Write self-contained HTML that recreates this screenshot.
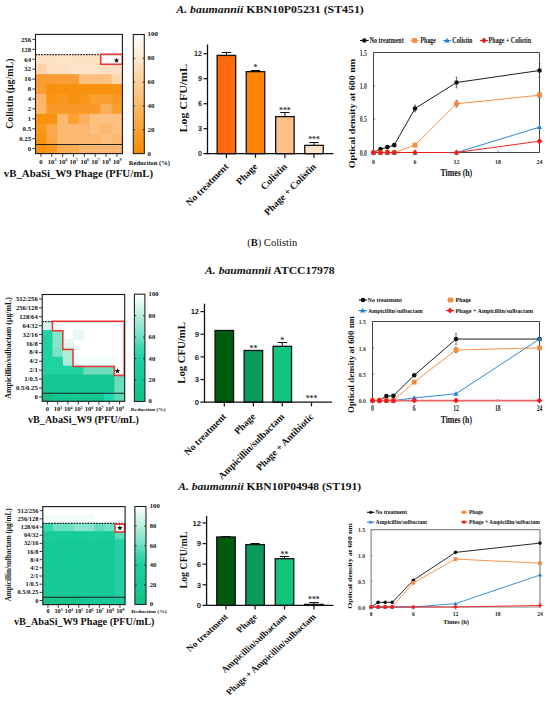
<!DOCTYPE html>
<html><head><meta charset="utf-8"><title>Figure</title>
<style>
html,body{margin:0;padding:0;background:#fff;}
body{width:550px;height:702px;overflow:hidden;}
svg{display:block;font-family:"Liberation Serif", serif;}
</style></head>
<body>
<svg width="550" height="702" viewBox="0 0 550 702" fill="#111">
<text x='176.3' y='12.8' font-size='10.6' font-weight='bold' textLength='187.5' lengthAdjust='spacingAndGlyphs'><tspan font-style='italic'>A. baumannii</tspan> KBN10P05231 (ST451)</text>
<rect x='35.5' y='54.27' width='11.46' height='10.53' fill='#fde2c6'/>
<rect x='46.36' y='54.27' width='11.46' height='10.53' fill='#fde2c6'/>
<rect x='57.23' y='54.27' width='11.46' height='10.53' fill='#fde2c6'/>
<rect x='68.09' y='54.27' width='11.46' height='10.53' fill='#fde2c6'/>
<rect x='78.95' y='54.27' width='11.46' height='10.53' fill='#fde2c6'/>
<rect x='89.81' y='54.27' width='11.46' height='10.53' fill='#fde2c6'/>
<rect x='35.5' y='64.2' width='11.46' height='10.53' fill='#fcd4ac'/>
<rect x='46.36' y='64.2' width='11.46' height='10.53' fill='#fde0c2'/>
<rect x='57.23' y='64.2' width='11.46' height='10.53' fill='#fde0c2'/>
<rect x='68.09' y='64.2' width='11.46' height='10.53' fill='#fde3c8'/>
<rect x='78.95' y='64.2' width='11.46' height='10.53' fill='#fde3c8'/>
<rect x='89.81' y='64.2' width='11.46' height='10.53' fill='#fde3c8'/>
<rect x='100.68' y='64.2' width='11.46' height='10.53' fill='#fde0c2'/>
<rect x='111.54' y='64.2' width='10.86' height='10.53' fill='#fde0c2'/>
<rect x='35.5' y='74.13' width='11.46' height='10.53' fill='#f99c34'/>
<rect x='46.36' y='74.13' width='11.46' height='10.53' fill='#f99c34'/>
<rect x='57.23' y='74.13' width='11.46' height='10.53' fill='#f99c34'/>
<rect x='68.09' y='74.13' width='11.46' height='10.53' fill='#f99c34'/>
<rect x='78.95' y='74.13' width='11.46' height='10.53' fill='#fbbf80'/>
<rect x='89.81' y='74.13' width='11.46' height='10.53' fill='#fbbf80'/>
<rect x='100.68' y='74.13' width='11.46' height='10.53' fill='#fbbf80'/>
<rect x='111.54' y='74.13' width='10.86' height='10.53' fill='#fdd6ae'/>
<rect x='35.5' y='84.07' width='11.46' height='10.53' fill='#f99c34'/>
<rect x='46.36' y='84.07' width='11.46' height='10.53' fill='#f8920e'/>
<rect x='57.23' y='84.07' width='11.46' height='10.53' fill='#f8920e'/>
<rect x='68.09' y='84.07' width='11.46' height='10.53' fill='#f8920e'/>
<rect x='78.95' y='84.07' width='11.46' height='10.53' fill='#f8920e'/>
<rect x='89.81' y='84.07' width='11.46' height='10.53' fill='#f8920e'/>
<rect x='100.68' y='84.07' width='11.46' height='10.53' fill='#f8920e'/>
<rect x='111.54' y='84.07' width='10.86' height='10.53' fill='#f8920e'/>
<rect x='35.5' y='94' width='11.46' height='10.53' fill='#fcb56a'/>
<rect x='46.36' y='94' width='11.46' height='10.53' fill='#f99414'/>
<rect x='57.23' y='94' width='11.46' height='10.53' fill='#f99820'/>
<rect x='68.09' y='94' width='11.46' height='10.53' fill='#f8920e'/>
<rect x='78.95' y='94' width='11.46' height='10.53' fill='#f99618'/>
<rect x='89.81' y='94' width='11.46' height='10.53' fill='#f9a030'/>
<rect x='100.68' y='94' width='11.46' height='10.53' fill='#f9a030'/>
<rect x='111.54' y='94' width='10.86' height='10.53' fill='#f99a28'/>
<rect x='35.5' y='103.93' width='11.46' height='10.53' fill='#fcb56a'/>
<rect x='46.36' y='103.93' width='11.46' height='10.53' fill='#f99a28'/>
<rect x='57.23' y='103.93' width='11.46' height='10.53' fill='#f99a28'/>
<rect x='68.09' y='103.93' width='11.46' height='10.53' fill='#f99a28'/>
<rect x='78.95' y='103.93' width='11.46' height='10.53' fill='#f99a28'/>
<rect x='89.81' y='103.93' width='11.46' height='10.53' fill='#f99a28'/>
<rect x='100.68' y='103.93' width='11.46' height='10.53' fill='#fbb060'/>
<rect x='111.54' y='103.93' width='10.86' height='10.53' fill='#f9a030'/>
<rect x='35.5' y='113.87' width='11.46' height='10.53' fill='#f8920e'/>
<rect x='46.36' y='113.87' width='11.46' height='10.53' fill='#f8920e'/>
<rect x='57.23' y='113.87' width='11.46' height='10.53' fill='#fcb86c'/>
<rect x='68.09' y='113.87' width='11.46' height='10.53' fill='#f9a030'/>
<rect x='78.95' y='113.87' width='11.46' height='10.53' fill='#fbb060'/>
<rect x='89.81' y='113.87' width='11.46' height='10.53' fill='#fcc080'/>
<rect x='100.68' y='113.87' width='11.46' height='10.53' fill='#fcc080'/>
<rect x='111.54' y='113.87' width='10.86' height='10.53' fill='#fcc080'/>
<rect x='35.5' y='123.8' width='11.46' height='10.53' fill='#f9981c'/>
<rect x='46.36' y='123.8' width='11.46' height='10.53' fill='#faa848'/>
<rect x='57.23' y='123.8' width='11.46' height='10.53' fill='#fcb870'/>
<rect x='68.09' y='123.8' width='11.46' height='10.53' fill='#fcb870'/>
<rect x='78.95' y='123.8' width='11.46' height='10.53' fill='#fcb870'/>
<rect x='89.81' y='123.8' width='11.46' height='10.53' fill='#fcc080'/>
<rect x='100.68' y='123.8' width='11.46' height='10.53' fill='#fcb870'/>
<rect x='111.54' y='123.8' width='10.86' height='10.53' fill='#fcc080'/>
<rect x='35.5' y='133.73' width='11.46' height='10.53' fill='#f8920e'/>
<rect x='46.36' y='133.73' width='11.46' height='10.53' fill='#faa848'/>
<rect x='57.23' y='133.73' width='11.46' height='10.53' fill='#fcb870'/>
<rect x='68.09' y='133.73' width='11.46' height='10.53' fill='#fcb870'/>
<rect x='78.95' y='133.73' width='11.46' height='10.53' fill='#fcb870'/>
<rect x='89.81' y='133.73' width='11.46' height='10.53' fill='#fcb870'/>
<rect x='100.68' y='133.73' width='11.46' height='10.53' fill='#fcc080'/>
<rect x='111.54' y='133.73' width='10.86' height='10.53' fill='#fcb870'/>
<rect x='35.5' y='143.67' width='11.46' height='9.93' fill='#f8900a'/>
<rect x='46.36' y='143.67' width='11.46' height='9.93' fill='#f9981c'/>
<rect x='57.23' y='143.67' width='11.46' height='9.93' fill='#fbac50'/>
<rect x='68.09' y='143.67' width='11.46' height='9.93' fill='#fbac50'/>
<rect x='78.95' y='143.67' width='11.46' height='9.93' fill='#fcb870'/>
<rect x='89.81' y='143.67' width='11.46' height='9.93' fill='#fcb870'/>
<rect x='100.68' y='143.67' width='11.46' height='9.93' fill='#fcb870'/>
<rect x='111.54' y='143.67' width='10.86' height='9.93' fill='#fcb870'/>
<line x1='35.5' y1='54.67' x2='122.4' y2='54.67' stroke='#222' stroke-width='1.35' stroke-dasharray='1.7 1.1'/>
<line x1='35.5' y1='144.47' x2='122.4' y2='144.47' stroke='#222' stroke-width='1.1'/>
<polygon points='100.68,54.27 122.4,54.27 122.4,64.2 100.68,64.2' fill='none' stroke='#f03232' stroke-width='1.5'/>
<rect x='35.5' y='34.4' width='86.9' height='119.2' fill='none' stroke='#1a1a1a' stroke-width='1.1'/>
<line x1='32.3' y1='39.37' x2='35.5' y2='39.37' stroke='#222' stroke-width='0.9'/>
<text x='31.1' y='41.68' font-size='6.8' font-weight='bold' text-anchor='end' textLength='10.2' lengthAdjust='spacingAndGlyphs'>256</text>
<line x1='32.3' y1='49.3' x2='35.5' y2='49.3' stroke='#222' stroke-width='0.9'/>
<text x='31.1' y='51.61' font-size='6.8' font-weight='bold' text-anchor='end' textLength='10.2' lengthAdjust='spacingAndGlyphs'>128</text>
<line x1='32.3' y1='59.23' x2='35.5' y2='59.23' stroke='#222' stroke-width='0.9'/>
<text x='31.1' y='61.55' font-size='6.8' font-weight='bold' text-anchor='end' textLength='6.8' lengthAdjust='spacingAndGlyphs'>64</text>
<line x1='32.3' y1='69.17' x2='35.5' y2='69.17' stroke='#222' stroke-width='0.9'/>
<text x='31.1' y='71.48' font-size='6.8' font-weight='bold' text-anchor='end' textLength='6.8' lengthAdjust='spacingAndGlyphs'>32</text>
<line x1='32.3' y1='79.1' x2='35.5' y2='79.1' stroke='#222' stroke-width='0.9'/>
<text x='31.1' y='81.41' font-size='6.8' font-weight='bold' text-anchor='end' textLength='6.8' lengthAdjust='spacingAndGlyphs'>16</text>
<line x1='32.3' y1='89.03' x2='35.5' y2='89.03' stroke='#222' stroke-width='0.9'/>
<text x='31.1' y='91.35' font-size='6.8' font-weight='bold' text-anchor='end' textLength='3.4' lengthAdjust='spacingAndGlyphs'>8</text>
<line x1='32.3' y1='98.97' x2='35.5' y2='98.97' stroke='#222' stroke-width='0.9'/>
<text x='31.1' y='101.28' font-size='6.8' font-weight='bold' text-anchor='end' textLength='3.4' lengthAdjust='spacingAndGlyphs'>4</text>
<line x1='32.3' y1='108.9' x2='35.5' y2='108.9' stroke='#222' stroke-width='0.9'/>
<text x='31.1' y='111.21' font-size='6.8' font-weight='bold' text-anchor='end' textLength='3.4' lengthAdjust='spacingAndGlyphs'>2</text>
<line x1='32.3' y1='118.83' x2='35.5' y2='118.83' stroke='#222' stroke-width='0.9'/>
<text x='31.1' y='121.15' font-size='6.8' font-weight='bold' text-anchor='end' textLength='3.4' lengthAdjust='spacingAndGlyphs'>1</text>
<line x1='32.3' y1='128.77' x2='35.5' y2='128.77' stroke='#222' stroke-width='0.9'/>
<text x='31.1' y='131.08' font-size='6.8' font-weight='bold' text-anchor='end' textLength='8.5' lengthAdjust='spacingAndGlyphs'>0.5</text>
<line x1='32.3' y1='138.7' x2='35.5' y2='138.7' stroke='#222' stroke-width='0.9'/>
<text x='31.1' y='141.01' font-size='6.8' font-weight='bold' text-anchor='end' textLength='11.9' lengthAdjust='spacingAndGlyphs'>0.25</text>
<line x1='32.3' y1='148.63' x2='35.5' y2='148.63' stroke='#222' stroke-width='0.9'/>
<text x='31.1' y='150.95' font-size='6.8' font-weight='bold' text-anchor='end' textLength='3.4' lengthAdjust='spacingAndGlyphs'>0</text>
<line x1='40.93' y1='153.6' x2='40.93' y2='156.8' stroke='#222' stroke-width='0.9'/>
<text x='40.93' y='163.5' font-size='6.6' font-weight='bold' text-anchor='middle'>0</text>
<line x1='51.79' y1='153.6' x2='51.79' y2='156.8' stroke='#222' stroke-width='0.9'/>
<text x='52.09' y='163.5' font-size='6.6' font-weight='bold' text-anchor='middle'>10<tspan dy='-2.51' font-size='3.96'>3</tspan></text>
<line x1='62.66' y1='153.6' x2='62.66' y2='156.8' stroke='#222' stroke-width='0.9'/>
<text x='62.96' y='163.5' font-size='6.6' font-weight='bold' text-anchor='middle'>10<tspan dy='-2.51' font-size='3.96'>4</tspan></text>
<line x1='73.52' y1='153.6' x2='73.52' y2='156.8' stroke='#222' stroke-width='0.9'/>
<text x='73.82' y='163.5' font-size='6.6' font-weight='bold' text-anchor='middle'>10<tspan dy='-2.51' font-size='3.96'>5</tspan></text>
<line x1='84.38' y1='153.6' x2='84.38' y2='156.8' stroke='#222' stroke-width='0.9'/>
<text x='84.68' y='163.5' font-size='6.6' font-weight='bold' text-anchor='middle'>10<tspan dy='-2.51' font-size='3.96'>6</tspan></text>
<line x1='95.24' y1='153.6' x2='95.24' y2='156.8' stroke='#222' stroke-width='0.9'/>
<text x='95.54' y='163.5' font-size='6.6' font-weight='bold' text-anchor='middle'>10<tspan dy='-2.51' font-size='3.96'>7</tspan></text>
<line x1='106.11' y1='153.6' x2='106.11' y2='156.8' stroke='#222' stroke-width='0.9'/>
<text x='106.41' y='163.5' font-size='6.6' font-weight='bold' text-anchor='middle'>10<tspan dy='-2.51' font-size='3.96'>8</tspan></text>
<line x1='116.97' y1='153.6' x2='116.97' y2='156.8' stroke='#222' stroke-width='0.9'/>
<text x='117.27' y='163.5' font-size='6.6' font-weight='bold' text-anchor='middle'>10<tspan dy='-2.51' font-size='3.96'>9</tspan></text>
<polygon points='116.5,57.5 117.23,59.39 119.26,59.5 117.69,60.79 118.2,62.75 116.5,61.65 114.8,62.75 115.31,60.79 113.74,59.5 115.77,59.39' fill='#111'/>
<text transform='translate(13 93.7) rotate(-90) scale(0.9361 1)' font-size='10.6' font-weight='bold' text-anchor='middle'>Colistin (μg/mL)</text>
<text x='78.4' y='177.2' font-size='10.6' font-weight='bold' text-anchor='middle' textLength='149.3' lengthAdjust='spacingAndGlyphs'>vB_AbaSi_W9 Phage (PFU/mL)</text>
<defs><linearGradient id='g1' x1='0' y1='0' x2='0' y2='1'><stop offset='0' stop-color='#ffffff'/><stop offset='1' stop-color='#f88a00'/></linearGradient></defs>
<rect x='133.3' y='34.5' width='11' height='119.1' fill='url(#g1)' stroke='#222' stroke-width='1.1'/>
<text x='147.6' y='36.46' font-size='5.6' font-weight='bold' textLength='10.35' lengthAdjust='spacingAndGlyphs'>100</text>
<line x1='133.3' y1='58.32' x2='135.1' y2='58.32' stroke='#222' stroke-width='0.9'/>
<line x1='142.5' y1='58.32' x2='144.3' y2='58.32' stroke='#222' stroke-width='0.9'/>
<text x='147.6' y='60.28' font-size='5.6' font-weight='bold' textLength='6.9' lengthAdjust='spacingAndGlyphs'>80</text>
<line x1='133.3' y1='82.14' x2='135.1' y2='82.14' stroke='#222' stroke-width='0.9'/>
<line x1='142.5' y1='82.14' x2='144.3' y2='82.14' stroke='#222' stroke-width='0.9'/>
<text x='147.6' y='84.1' font-size='5.6' font-weight='bold' textLength='6.9' lengthAdjust='spacingAndGlyphs'>60</text>
<line x1='133.3' y1='105.96' x2='135.1' y2='105.96' stroke='#222' stroke-width='0.9'/>
<line x1='142.5' y1='105.96' x2='144.3' y2='105.96' stroke='#222' stroke-width='0.9'/>
<text x='147.6' y='107.92' font-size='5.6' font-weight='bold' textLength='6.9' lengthAdjust='spacingAndGlyphs'>40</text>
<line x1='133.3' y1='129.78' x2='135.1' y2='129.78' stroke='#222' stroke-width='0.9'/>
<line x1='142.5' y1='129.78' x2='144.3' y2='129.78' stroke='#222' stroke-width='0.9'/>
<text x='147.6' y='131.74' font-size='5.6' font-weight='bold' textLength='6.9' lengthAdjust='spacingAndGlyphs'>20</text>
<text x='147.6' y='155.56' font-size='5.6' font-weight='bold' textLength='3.45' lengthAdjust='spacingAndGlyphs'>0</text>
<text x='149.4' y='164.5' font-size='6' font-weight='bold' text-anchor='middle' textLength='41.2' lengthAdjust='spacingAndGlyphs'>Reduction (%)</text>
<rect x='217.15' y='55.41' width='18.5' height='98.29' fill='#fe6a0a' stroke='#111' stroke-width='1.3'/>
<line x1='226.4' y1='55.41' x2='226.4' y2='52.5' stroke='#111' stroke-width='1'/>
<line x1='221.7' y1='52.5' x2='231.1' y2='52.5' stroke='#111' stroke-width='1'/>
<rect x='246.25' y='71.65' width='18.5' height='82.05' fill='#ff8404' stroke='#111' stroke-width='1.3'/>
<line x1='255.5' y1='71.65' x2='255.5' y2='70.5' stroke='#111' stroke-width='1'/>
<line x1='250.8' y1='70.5' x2='260.2' y2='70.5' stroke='#111' stroke-width='1'/>
<text x='255.5' y='69.9' font-size='7.6' font-weight='bold' text-anchor='middle' fill='#333' textLength='3.9' lengthAdjust='spacingAndGlyphs'>*</text>
<rect x='275.65' y='116.63' width='18.5' height='37.07' fill='#fdc08a' stroke='#111' stroke-width='1.3'/>
<line x1='284.9' y1='116.63' x2='284.9' y2='112.5' stroke='#111' stroke-width='1'/>
<line x1='280.2' y1='112.5' x2='289.6' y2='112.5' stroke='#111' stroke-width='1'/>
<text x='284.9' y='112.9' font-size='7.6' font-weight='bold' text-anchor='middle' fill='#333' textLength='11.7' lengthAdjust='spacingAndGlyphs'>***</text>
<rect x='304.75' y='145.37' width='18.5' height='8.33' fill='#fde4c8' stroke='#111' stroke-width='1.3'/>
<line x1='314' y1='145.37' x2='314' y2='142.5' stroke='#111' stroke-width='1'/>
<line x1='309.3' y1='142.5' x2='318.7' y2='142.5' stroke='#111' stroke-width='1'/>
<text x='314' y='142.4' font-size='7.6' font-weight='bold' text-anchor='middle' fill='#333' textLength='11.7' lengthAdjust='spacingAndGlyphs'>***</text>
<line x1='207.5' y1='44.5' x2='207.5' y2='154.3' stroke='#111' stroke-width='1.3'/>
<line x1='203.5' y1='153.7' x2='333.5' y2='153.7' stroke='#111' stroke-width='1.3'/>
<line x1='203.5' y1='128.71' x2='207.5' y2='128.71' stroke='#111' stroke-width='1.2'/>
<line x1='203.5' y1='103.72' x2='207.5' y2='103.72' stroke='#111' stroke-width='1.2'/>
<line x1='203.5' y1='78.73' x2='207.5' y2='78.73' stroke='#111' stroke-width='1.2'/>
<line x1='203.5' y1='53.74' x2='207.5' y2='53.74' stroke='#111' stroke-width='1.2'/>
<text x='202.1' y='156.29' font-size='7.2' font-weight='bold' font-family='Liberation Sans' text-anchor='end' fill='#222'>0</text>
<text x='202.1' y='131.3' font-size='7.2' font-weight='bold' font-family='Liberation Sans' text-anchor='end' fill='#222'>3</text>
<text x='202.1' y='106.31' font-size='7.2' font-weight='bold' font-family='Liberation Sans' text-anchor='end' fill='#222'>6</text>
<text x='202.1' y='81.32' font-size='7.2' font-weight='bold' font-family='Liberation Sans' text-anchor='end' fill='#222'>9</text>
<text x='202.1' y='56.33' font-size='7.2' font-weight='bold' font-family='Liberation Sans' text-anchor='end' fill='#222'>12</text>
<line x1='226.4' y1='153.7' x2='226.4' y2='157.9' stroke='#111' stroke-width='1.2'/>
<line x1='255.5' y1='153.7' x2='255.5' y2='157.9' stroke='#111' stroke-width='1.2'/>
<line x1='284.9' y1='153.7' x2='284.9' y2='157.9' stroke='#111' stroke-width='1.2'/>
<line x1='314' y1='153.7' x2='314' y2='157.9' stroke='#111' stroke-width='1.2'/>
<text transform='translate(187 98.3) rotate(-90) scale(1.1313 1)' font-size='10.5' font-weight='bold' text-anchor='middle'>Log CFU/mL</text>
<text transform='translate(229 167.3) scale(1 1) rotate(-45)' font-size='9.8' font-weight='bold' text-anchor='end'>No treatment</text>
<text transform='translate(258.1 167.3) scale(1 1) rotate(-45)' font-size='9.8' font-weight='bold' text-anchor='end'>Phage</text>
<text transform='translate(287.5 167.3) scale(1 1) rotate(-45)' font-size='9.8' font-weight='bold' text-anchor='end'>Colistin</text>
<text transform='translate(316.6 167.3) scale(1 1) rotate(-45)' font-size='9.8' font-weight='bold' text-anchor='end'>Phage + Colistin</text>
<path d='M373.5,152.5 L373.5,52.5 L539.5,52.5 L539.5,152.5 Z' fill='none' stroke='#444' stroke-width='1'/>
<line x1='373.5' y1='152.5' x2='375.1' y2='152.5' stroke='#444' stroke-width='0.8'/>
<text x='366.9' y='155.52' font-size='7.2' font-weight='bold' text-anchor='end' fill='#333' textLength='7.2' lengthAdjust='spacingAndGlyphs'>0.0</text>
<line x1='373.5' y1='119.17' x2='375.1' y2='119.17' stroke='#444' stroke-width='0.8'/>
<text x='366.9' y='122.19' font-size='7.2' font-weight='bold' text-anchor='end' fill='#333' textLength='7.2' lengthAdjust='spacingAndGlyphs'>0.5</text>
<line x1='373.5' y1='85.83' x2='375.1' y2='85.83' stroke='#444' stroke-width='0.8'/>
<text x='366.9' y='88.86' font-size='7.2' font-weight='bold' text-anchor='end' fill='#333' textLength='7.2' lengthAdjust='spacingAndGlyphs'>1.0</text>
<line x1='373.5' y1='52.5' x2='375.1' y2='52.5' stroke='#444' stroke-width='0.8'/>
<text x='366.9' y='55.52' font-size='7.2' font-weight='bold' text-anchor='end' fill='#333' textLength='7.2' lengthAdjust='spacingAndGlyphs'>1.5</text>
<line x1='373.5' y1='152.5' x2='373.5' y2='151' stroke='#444' stroke-width='0.8'/>
<text x='373.5' y='163.8' font-size='7' font-weight='bold' text-anchor='middle' fill='#222' textLength='2.95' lengthAdjust='spacingAndGlyphs'>0</text>
<line x1='415' y1='152.5' x2='415' y2='151' stroke='#444' stroke-width='0.8'/>
<text x='415' y='163.8' font-size='7' font-weight='bold' text-anchor='middle' fill='#222' textLength='2.95' lengthAdjust='spacingAndGlyphs'>6</text>
<line x1='456.5' y1='152.5' x2='456.5' y2='151' stroke='#444' stroke-width='0.8'/>
<text x='456.5' y='163.8' font-size='7' font-weight='bold' text-anchor='middle' fill='#222' textLength='5.9' lengthAdjust='spacingAndGlyphs'>12</text>
<line x1='498' y1='152.5' x2='498' y2='151' stroke='#444' stroke-width='0.8'/>
<text x='498' y='163.8' font-size='7' font-weight='bold' text-anchor='middle' fill='#222' textLength='5.9' lengthAdjust='spacingAndGlyphs'>18</text>
<line x1='539.5' y1='152.5' x2='539.5' y2='151' stroke='#444' stroke-width='0.8'/>
<text x='539.5' y='163.8' font-size='7' font-weight='bold' text-anchor='middle' fill='#222' textLength='5.9' lengthAdjust='spacingAndGlyphs'>24</text>
<polyline points='373.5,152.5 380.42,149.17 387.33,147.17 394.25,145.17 415,108.5 456.5,82.5 539.5,70.5' fill='none' stroke='#111111' stroke-width='0.95'/>
<circle cx='373.5' cy='152.5' r='2.3' fill='#111111'/>
<circle cx='380.42' cy='149.17' r='2.3' fill='#111111'/>
<circle cx='387.33' cy='147.17' r='2.3' fill='#111111'/>
<circle cx='394.25' cy='145.17' r='2.3' fill='#111111'/>
<line x1='415' y1='105.17' x2='415' y2='111.83' stroke='#444' stroke-width='0.7'/>
<line x1='414' y1='105.17' x2='416' y2='105.17' stroke='#444' stroke-width='0.7'/>
<line x1='414' y1='111.83' x2='416' y2='111.83' stroke='#444' stroke-width='0.7'/>
<circle cx='415' cy='108.5' r='2.3' fill='#111111'/>
<line x1='456.5' y1='77.17' x2='456.5' y2='87.83' stroke='#444' stroke-width='0.7'/>
<line x1='455.5' y1='77.17' x2='457.5' y2='77.17' stroke='#444' stroke-width='0.7'/>
<line x1='455.5' y1='87.83' x2='457.5' y2='87.83' stroke='#444' stroke-width='0.7'/>
<circle cx='456.5' cy='82.5' r='2.3' fill='#111111'/>
<line x1='539.5' y1='63.83' x2='539.5' y2='77.17' stroke='#444' stroke-width='0.7'/>
<line x1='538.5' y1='63.83' x2='540.5' y2='63.83' stroke='#444' stroke-width='0.7'/>
<line x1='538.5' y1='77.17' x2='540.5' y2='77.17' stroke='#444' stroke-width='0.7'/>
<circle cx='539.5' cy='70.5' r='2.3' fill='#111111'/>
<polyline points='373.5,152.5 380.42,152.5 387.33,152.5 394.25,152.5 415,145.17 456.5,103.83 539.5,95.17' fill='none' stroke='#f6893c' stroke-width='0.95'/>
<rect x='371.1' y='150.1' width='4.8' height='4.8' fill='#f6893c'/>
<rect x='378.02' y='150.1' width='4.8' height='4.8' fill='#f6893c'/>
<rect x='384.93' y='150.1' width='4.8' height='4.8' fill='#f6893c'/>
<rect x='391.85' y='150.1' width='4.8' height='4.8' fill='#f6893c'/>
<rect x='412.6' y='142.77' width='4.8' height='4.8' fill='#f6893c'/>
<line x1='456.5' y1='100.5' x2='456.5' y2='107.17' stroke='#444' stroke-width='0.7'/>
<line x1='455.5' y1='100.5' x2='457.5' y2='100.5' stroke='#444' stroke-width='0.7'/>
<line x1='455.5' y1='107.17' x2='457.5' y2='107.17' stroke='#444' stroke-width='0.7'/>
<rect x='454.1' y='101.43' width='4.8' height='4.8' fill='#f6893c'/>
<line x1='539.5' y1='92.5' x2='539.5' y2='97.83' stroke='#444' stroke-width='0.7'/>
<line x1='538.5' y1='92.5' x2='540.5' y2='92.5' stroke='#444' stroke-width='0.7'/>
<line x1='538.5' y1='97.83' x2='540.5' y2='97.83' stroke='#444' stroke-width='0.7'/>
<rect x='537.1' y='92.77' width='4.8' height='4.8' fill='#f6893c'/>
<polyline points='373.5,152.5 380.42,152.5 387.33,152.5 394.25,152.5 415,152.5 456.5,152.5 539.5,127.17' fill='none' stroke='#2383d6' stroke-width='0.95'/>
<polygon points='373.5,149.7 376.1,154.4 370.9,154.4' fill='#2383d6'/>
<polygon points='380.42,149.7 383.02,154.4 377.82,154.4' fill='#2383d6'/>
<polygon points='387.33,149.7 389.93,154.4 384.73,154.4' fill='#2383d6'/>
<polygon points='394.25,149.7 396.85,154.4 391.65,154.4' fill='#2383d6'/>
<polygon points='415,149.7 417.6,154.4 412.4,154.4' fill='#2383d6'/>
<polygon points='456.5,149.7 459.1,154.4 453.9,154.4' fill='#2383d6'/>
<polygon points='539.5,124.37 542.1,129.07 536.9,129.07' fill='#2383d6'/>
<polyline points='373.5,152.5 380.42,152.5 387.33,152.5 394.25,152.5 415,152.5 456.5,152.5 539.5,141.17' fill='none' stroke='#f51a1a' stroke-width='0.95'/>
<polygon points='373.5,149.5 376.3,152.5 373.5,155.5 370.7,152.5' fill='#f51a1a'/>
<polygon points='380.42,149.5 383.22,152.5 380.42,155.5 377.62,152.5' fill='#f51a1a'/>
<polygon points='387.33,149.5 390.13,152.5 387.33,155.5 384.53,152.5' fill='#f51a1a'/>
<polygon points='394.25,149.5 397.05,152.5 394.25,155.5 391.45,152.5' fill='#f51a1a'/>
<polygon points='415,149.5 417.8,152.5 415,155.5 412.2,152.5' fill='#f51a1a'/>
<polygon points='456.5,149.5 459.3,152.5 456.5,155.5 453.7,152.5' fill='#f51a1a'/>
<polygon points='539.5,138.17 542.3,141.17 539.5,144.17 536.7,141.17' fill='#f51a1a'/>
<text x='456.3' y='175.6' font-size='9.6' font-weight='bold' text-anchor='middle' textLength='31.8' lengthAdjust='spacingAndGlyphs'>Times (h)</text>
<text transform='translate(355.3 113.6) rotate(-90) scale(1.2065 1)' font-size='8.3' font-weight='bold' text-anchor='middle'>Optical density at 600 nm</text>
<line x1='360' y1='40.5' x2='368.6' y2='40.5' stroke='#111111' stroke-width='1.1'/>
<circle cx='364.3' cy='40.5' r='2.3' fill='#111111'/>
<text x='369.7' y='42.66' font-size='7.2' font-weight='bold' textLength='34' lengthAdjust='spacingAndGlyphs'>No treatment</text>
<line x1='410.7' y1='40.5' x2='418.4' y2='40.5' stroke='#f6893c' stroke-width='1.1'/>
<rect x='412.15' y='38.1' width='4.8' height='4.8' fill='#f6893c'/>
<text x='420.5' y='42.66' font-size='7.2' font-weight='bold' textLength='15.4' lengthAdjust='spacingAndGlyphs'>Phage</text>
<line x1='443.2' y1='40.5' x2='450.8' y2='40.5' stroke='#2383d6' stroke-width='1.1'/>
<polygon points='447,37.7 449.6,42.4 444.4,42.4' fill='#2383d6'/>
<text x='452.3' y='42.66' font-size='7.2' font-weight='bold' textLength='20.2' lengthAdjust='spacingAndGlyphs'>Colistin</text>
<line x1='480' y1='40.5' x2='488' y2='40.5' stroke='#f51a1a' stroke-width='1.1'/>
<polygon points='484,37.5 486.8,40.5 484,43.5 481.2,40.5' fill='#f51a1a'/>
<text x='488.6' y='42.66' font-size='7.2' font-weight='bold' textLength='42.4' lengthAdjust='spacingAndGlyphs'>Phage + Colistin</text>
<text x='247.2' y='245.5' font-size='9.8' textLength='50' lengthAdjust='spacingAndGlyphs'>(<tspan font-weight='bold'>B</tspan>) Colistin</text>
<text x='205.1' y='274' font-size='9.6' font-weight='bold' textLength='129.5' lengthAdjust='spacingAndGlyphs'><tspan font-style='italic'>A. baumannii</tspan> ATCC17978</text>
<rect x='42.2' y='321.2' width='10.91' height='9.5' fill='#d8f5ec'/>
<rect x='42.2' y='330.1' width='10.91' height='9.5' fill='#1ed2a2'/>
<rect x='52.51' y='330.1' width='10.91' height='9.5' fill='#88e3c9'/>
<rect x='73.14' y='330.1' width='10.91' height='9.5' fill='#e6f9f3'/>
<rect x='42.2' y='339' width='10.91' height='9.5' fill='#1ed2a2'/>
<rect x='52.51' y='339' width='10.91' height='9.5' fill='#88e3c9'/>
<rect x='62.83' y='339' width='10.91' height='9.5' fill='#e4f8f1'/>
<rect x='42.2' y='347.9' width='10.91' height='9.5' fill='#1ed2a2'/>
<rect x='52.51' y='347.9' width='10.91' height='9.5' fill='#80e0c5'/>
<rect x='62.83' y='347.9' width='10.91' height='9.5' fill='#b0ecd9'/>
<rect x='42.2' y='356.8' width='10.91' height='9.5' fill='#1ed2a2'/>
<rect x='52.51' y='356.8' width='10.91' height='9.5' fill='#1ed2a2'/>
<rect x='62.83' y='356.8' width='10.91' height='9.5' fill='#b0ecd9'/>
<rect x='73.14' y='356.8' width='10.91' height='9.5' fill='#f3fcf9'/>
<rect x='83.45' y='356.8' width='10.91' height='9.5' fill='#f3fcf9'/>
<rect x='93.76' y='356.8' width='10.91' height='9.5' fill='#f3fcf9'/>
<rect x='104.08' y='356.8' width='10.91' height='9.5' fill='#f3fcf9'/>
<rect x='42.2' y='365.7' width='10.91' height='9.5' fill='#1ed2a2'/>
<rect x='52.51' y='365.7' width='10.91' height='9.5' fill='#1ed2a2'/>
<rect x='62.83' y='365.7' width='10.91' height='9.5' fill='#1ed2a2'/>
<rect x='73.14' y='365.7' width='10.91' height='9.5' fill='#1ed2a2'/>
<rect x='83.45' y='365.7' width='10.91' height='9.5' fill='#70dcbc'/>
<rect x='93.76' y='365.7' width='10.91' height='9.5' fill='#70dcbc'/>
<rect x='104.08' y='365.7' width='10.91' height='9.5' fill='#70dcbc'/>
<rect x='42.2' y='374.6' width='10.91' height='9.5' fill='#14c894'/>
<rect x='52.51' y='374.6' width='10.91' height='9.5' fill='#14c894'/>
<rect x='62.83' y='374.6' width='10.91' height='9.5' fill='#14c894'/>
<rect x='73.14' y='374.6' width='10.91' height='9.5' fill='#14c894'/>
<rect x='83.45' y='374.6' width='10.91' height='9.5' fill='#14c894'/>
<rect x='93.76' y='374.6' width='10.91' height='9.5' fill='#14c894'/>
<rect x='104.08' y='374.6' width='10.91' height='9.5' fill='#14c894'/>
<rect x='114.39' y='374.6' width='10.31' height='9.5' fill='#6cdcbc'/>
<rect x='42.2' y='383.5' width='10.91' height='9.5' fill='#14c894'/>
<rect x='52.51' y='383.5' width='10.91' height='9.5' fill='#14c894'/>
<rect x='62.83' y='383.5' width='10.91' height='9.5' fill='#14c894'/>
<rect x='73.14' y='383.5' width='10.91' height='9.5' fill='#14c894'/>
<rect x='83.45' y='383.5' width='10.91' height='9.5' fill='#14c894'/>
<rect x='93.76' y='383.5' width='10.91' height='9.5' fill='#14c894'/>
<rect x='104.08' y='383.5' width='10.91' height='9.5' fill='#14c894'/>
<rect x='114.39' y='383.5' width='10.31' height='9.5' fill='#6cdcbc'/>
<rect x='42.2' y='392.4' width='10.91' height='8.9' fill='#18c080'/>
<rect x='52.51' y='392.4' width='10.91' height='8.9' fill='#14c894'/>
<rect x='62.83' y='392.4' width='10.91' height='8.9' fill='#14c894'/>
<rect x='73.14' y='392.4' width='10.91' height='8.9' fill='#14c894'/>
<rect x='83.45' y='392.4' width='10.91' height='8.9' fill='#14c894'/>
<rect x='93.76' y='392.4' width='10.91' height='8.9' fill='#14c894'/>
<rect x='104.08' y='392.4' width='10.91' height='8.9' fill='#20d8b0'/>
<rect x='114.39' y='392.4' width='10.31' height='8.9' fill='#60dab8'/>
<line x1='42.2' y1='321.6' x2='124.7' y2='321.6' stroke='#222' stroke-width='1.35' stroke-dasharray='1.7 1.1'/>
<line x1='42.2' y1='393.2' x2='124.7' y2='393.2' stroke='#222' stroke-width='1.1'/>
<polygon points='52.4,321.3 124.2,321.3 124.2,375.4 114.3,375.4 114.3,366.4 73,366.4 73,349.6 62.8,349.6 62.8,330.7 52.4,330.7' fill='none' stroke='#f03232' stroke-width='1.5'/>
<rect x='42.2' y='294.5' width='82.5' height='106.8' fill='none' stroke='#1a1a1a' stroke-width='1.1'/>
<line x1='39' y1='298.95' x2='42.2' y2='298.95' stroke='#222' stroke-width='0.9'/>
<text x='37.8' y='301.09' font-size='6.3' font-weight='bold' text-anchor='end' textLength='21.89' lengthAdjust='spacingAndGlyphs'>512/256</text>
<line x1='39' y1='307.85' x2='42.2' y2='307.85' stroke='#222' stroke-width='0.9'/>
<text x='37.8' y='309.99' font-size='6.3' font-weight='bold' text-anchor='end' textLength='21.89' lengthAdjust='spacingAndGlyphs'>256/128</text>
<line x1='39' y1='316.75' x2='42.2' y2='316.75' stroke='#222' stroke-width='0.9'/>
<text x='37.8' y='318.89' font-size='6.3' font-weight='bold' text-anchor='end' textLength='18.55' lengthAdjust='spacingAndGlyphs'>128/64</text>
<line x1='39' y1='325.65' x2='42.2' y2='325.65' stroke='#222' stroke-width='0.9'/>
<text x='37.8' y='327.79' font-size='6.3' font-weight='bold' text-anchor='end' textLength='15.21' lengthAdjust='spacingAndGlyphs'>64/32</text>
<line x1='39' y1='334.55' x2='42.2' y2='334.55' stroke='#222' stroke-width='0.9'/>
<text x='37.8' y='336.69' font-size='6.3' font-weight='bold' text-anchor='end' textLength='15.21' lengthAdjust='spacingAndGlyphs'>32/16</text>
<line x1='39' y1='343.45' x2='42.2' y2='343.45' stroke='#222' stroke-width='0.9'/>
<text x='37.8' y='345.59' font-size='6.3' font-weight='bold' text-anchor='end' textLength='11.87' lengthAdjust='spacingAndGlyphs'>16/8</text>
<line x1='39' y1='352.35' x2='42.2' y2='352.35' stroke='#222' stroke-width='0.9'/>
<text x='37.8' y='354.49' font-size='6.3' font-weight='bold' text-anchor='end' textLength='8.53' lengthAdjust='spacingAndGlyphs'>8/4</text>
<line x1='39' y1='361.25' x2='42.2' y2='361.25' stroke='#222' stroke-width='0.9'/>
<text x='37.8' y='363.39' font-size='6.3' font-weight='bold' text-anchor='end' textLength='8.53' lengthAdjust='spacingAndGlyphs'>4/2</text>
<line x1='39' y1='370.15' x2='42.2' y2='370.15' stroke='#222' stroke-width='0.9'/>
<text x='37.8' y='372.29' font-size='6.3' font-weight='bold' text-anchor='end' textLength='8.53' lengthAdjust='spacingAndGlyphs'>2/1</text>
<line x1='39' y1='379.05' x2='42.2' y2='379.05' stroke='#222' stroke-width='0.9'/>
<text x='37.8' y='381.19' font-size='6.3' font-weight='bold' text-anchor='end' textLength='13.54' lengthAdjust='spacingAndGlyphs'>1/0.5</text>
<line x1='39' y1='387.95' x2='42.2' y2='387.95' stroke='#222' stroke-width='0.9'/>
<text x='37.8' y='390.09' font-size='6.3' font-weight='bold' text-anchor='end' textLength='21.89' lengthAdjust='spacingAndGlyphs'>0.5/0.25</text>
<line x1='39' y1='396.85' x2='42.2' y2='396.85' stroke='#222' stroke-width='0.9'/>
<text x='37.8' y='398.99' font-size='6.3' font-weight='bold' text-anchor='end' textLength='3.34' lengthAdjust='spacingAndGlyphs'>0</text>
<line x1='47.36' y1='401.3' x2='47.36' y2='404.5' stroke='#222' stroke-width='0.9'/>
<text x='47.36' y='411' font-size='6.5' font-weight='bold' text-anchor='middle'>0</text>
<line x1='57.67' y1='401.3' x2='57.67' y2='404.5' stroke='#222' stroke-width='0.9'/>
<text x='57.97' y='411' font-size='6.5' font-weight='bold' text-anchor='middle'>10<tspan dy='-2.47' font-size='3.9'>3</tspan></text>
<line x1='67.98' y1='401.3' x2='67.98' y2='404.5' stroke='#222' stroke-width='0.9'/>
<text x='68.28' y='411' font-size='6.5' font-weight='bold' text-anchor='middle'>10<tspan dy='-2.47' font-size='3.9'>4</tspan></text>
<line x1='78.29' y1='401.3' x2='78.29' y2='404.5' stroke='#222' stroke-width='0.9'/>
<text x='78.59' y='411' font-size='6.5' font-weight='bold' text-anchor='middle'>10<tspan dy='-2.47' font-size='3.9'>5</tspan></text>
<line x1='88.61' y1='401.3' x2='88.61' y2='404.5' stroke='#222' stroke-width='0.9'/>
<text x='88.91' y='411' font-size='6.5' font-weight='bold' text-anchor='middle'>10<tspan dy='-2.47' font-size='3.9'>6</tspan></text>
<line x1='98.92' y1='401.3' x2='98.92' y2='404.5' stroke='#222' stroke-width='0.9'/>
<text x='99.22' y='411' font-size='6.5' font-weight='bold' text-anchor='middle'>10<tspan dy='-2.47' font-size='3.9'>7</tspan></text>
<line x1='109.23' y1='401.3' x2='109.23' y2='404.5' stroke='#222' stroke-width='0.9'/>
<text x='109.53' y='411' font-size='6.5' font-weight='bold' text-anchor='middle'>10<tspan dy='-2.47' font-size='3.9'>8</tspan></text>
<line x1='119.54' y1='401.3' x2='119.54' y2='404.5' stroke='#222' stroke-width='0.9'/>
<text x='119.84' y='411' font-size='6.5' font-weight='bold' text-anchor='middle'>10<tspan dy='-2.47' font-size='3.9'>9</tspan></text>
<polygon points='117.5,368.2 118.23,370.09 120.26,370.2 118.69,371.49 119.2,373.45 117.5,372.35 115.8,373.45 116.31,371.49 114.74,370.2 116.77,370.09' fill='#111'/>
<text transform='translate(10.7 347.9) rotate(-90) scale(0.9478 1)' font-size='8.3' font-weight='bold' text-anchor='middle'>Ampicillin/sulbactam (μg/mL)</text>
<text x='83.5' y='423' font-size='10.2' font-weight='bold' text-anchor='middle' textLength='111' lengthAdjust='spacingAndGlyphs'>vB_AbaSi_W9 (PFU/mL)</text>
<defs><linearGradient id='g2' x1='0' y1='0' x2='0' y2='1'><stop offset='0' stop-color='#ffffff'/><stop offset='0.2' stop-color='#b8eede'/><stop offset='0.4' stop-color='#6ce0c2'/><stop offset='0.5' stop-color='#38d6ac'/><stop offset='0.6' stop-color='#1ed0a2'/><stop offset='0.8' stop-color='#16c894'/><stop offset='1' stop-color='#12c086'/></linearGradient></defs>
<rect x='134.4' y='294.2' width='10.5' height='107.3' fill='url(#g2)' stroke='#222' stroke-width='1.1'/>
<text x='148.6' y='296.12' font-size='5.5' font-weight='bold' textLength='9.9' lengthAdjust='spacingAndGlyphs'>100</text>
<line x1='134.4' y1='315.66' x2='136.2' y2='315.66' stroke='#222' stroke-width='0.9'/>
<line x1='143.1' y1='315.66' x2='144.9' y2='315.66' stroke='#222' stroke-width='0.9'/>
<text x='148.6' y='317.58' font-size='5.5' font-weight='bold' textLength='6.6' lengthAdjust='spacingAndGlyphs'>80</text>
<line x1='134.4' y1='337.12' x2='136.2' y2='337.12' stroke='#222' stroke-width='0.9'/>
<line x1='143.1' y1='337.12' x2='144.9' y2='337.12' stroke='#222' stroke-width='0.9'/>
<text x='148.6' y='339.05' font-size='5.5' font-weight='bold' textLength='6.6' lengthAdjust='spacingAndGlyphs'>60</text>
<line x1='134.4' y1='358.58' x2='136.2' y2='358.58' stroke='#222' stroke-width='0.9'/>
<line x1='143.1' y1='358.58' x2='144.9' y2='358.58' stroke='#222' stroke-width='0.9'/>
<text x='148.6' y='360.5' font-size='5.5' font-weight='bold' textLength='6.6' lengthAdjust='spacingAndGlyphs'>40</text>
<line x1='134.4' y1='380.04' x2='136.2' y2='380.04' stroke='#222' stroke-width='0.9'/>
<line x1='143.1' y1='380.04' x2='144.9' y2='380.04' stroke='#222' stroke-width='0.9'/>
<text x='148.6' y='381.96' font-size='5.5' font-weight='bold' textLength='6.6' lengthAdjust='spacingAndGlyphs'>20</text>
<text x='148.6' y='403.43' font-size='5.5' font-weight='bold' textLength='3.3' lengthAdjust='spacingAndGlyphs'>0</text>
<text x='148.2' y='411' font-size='4.9' font-weight='bold' text-anchor='middle' textLength='35' lengthAdjust='spacingAndGlyphs'>Reduction (%)</text>
<rect x='215.05' y='330.48' width='18.5' height='71.72' fill='#005b0e' stroke='#111' stroke-width='1.3'/>
<line x1='224.3' y1='330.48' x2='224.3' y2='330.5' stroke='#111' stroke-width='1'/>
<line x1='219.6' y1='330.5' x2='229' y2='330.5' stroke='#111' stroke-width='1'/>
<rect x='244.15' y='350.48' width='18.5' height='51.72' fill='#0a9a5c' stroke='#111' stroke-width='1.3'/>
<line x1='253.4' y1='350.48' x2='253.4' y2='350.5' stroke='#111' stroke-width='1'/>
<line x1='248.7' y1='350.5' x2='258.1' y2='350.5' stroke='#111' stroke-width='1'/>
<text x='253.4' y='351.4' font-size='7.6' font-weight='bold' text-anchor='middle' fill='#333' textLength='7.8' lengthAdjust='spacingAndGlyphs'>**</text>
<rect x='273.05' y='346.33' width='18.5' height='55.87' fill='#10c47c' stroke='#111' stroke-width='1.3'/>
<line x1='282.3' y1='346.33' x2='282.3' y2='342.5' stroke='#111' stroke-width='1'/>
<line x1='277.6' y1='342.5' x2='287' y2='342.5' stroke='#111' stroke-width='1'/>
<text x='282.3' y='343.4' font-size='7.6' font-weight='bold' text-anchor='middle' fill='#333' textLength='3.9' lengthAdjust='spacingAndGlyphs'>*</text>
<text x='311.5' y='401.4' font-size='7.6' font-weight='bold' text-anchor='middle' fill='#333' textLength='11.7' lengthAdjust='spacingAndGlyphs'>***</text>
<line x1='204.5' y1='303.7' x2='204.5' y2='402.8' stroke='#111' stroke-width='1.3'/>
<line x1='200.5' y1='402.2' x2='332' y2='402.2' stroke='#111' stroke-width='1.3'/>
<line x1='200.5' y1='379.55' x2='204.5' y2='379.55' stroke='#111' stroke-width='1.2'/>
<line x1='200.5' y1='356.9' x2='204.5' y2='356.9' stroke='#111' stroke-width='1.2'/>
<line x1='200.5' y1='334.25' x2='204.5' y2='334.25' stroke='#111' stroke-width='1.2'/>
<line x1='200.5' y1='311.6' x2='204.5' y2='311.6' stroke='#111' stroke-width='1.2'/>
<text x='199.1' y='404.94' font-size='7.6' font-weight='bold' font-family='Liberation Sans' text-anchor='end' fill='#222'>0</text>
<text x='199.1' y='382.29' font-size='7.6' font-weight='bold' font-family='Liberation Sans' text-anchor='end' fill='#222'>3</text>
<text x='199.1' y='359.64' font-size='7.6' font-weight='bold' font-family='Liberation Sans' text-anchor='end' fill='#222'>6</text>
<text x='199.1' y='336.99' font-size='7.6' font-weight='bold' font-family='Liberation Sans' text-anchor='end' fill='#222'>9</text>
<text x='199.1' y='314.34' font-size='7.6' font-weight='bold' font-family='Liberation Sans' text-anchor='end' fill='#222'>12</text>
<line x1='224.3' y1='402.2' x2='224.3' y2='406.4' stroke='#111' stroke-width='1.2'/>
<line x1='253.4' y1='402.2' x2='253.4' y2='406.4' stroke='#111' stroke-width='1.2'/>
<line x1='282.3' y1='402.2' x2='282.3' y2='406.4' stroke='#111' stroke-width='1.2'/>
<line x1='311.5' y1='402.2' x2='311.5' y2='406.4' stroke='#111' stroke-width='1.2'/>
<text transform='translate(184.7 352.9) rotate(-90) scale(0.9919 1)' font-size='10.8' font-weight='bold' text-anchor='middle'>Log CFU/mL</text>
<text transform='translate(226.9 417.2) scale(1 1) rotate(-45)' font-size='9.7' font-weight='bold' text-anchor='end'>No treatment</text>
<text transform='translate(256 417.2) scale(1 1) rotate(-45)' font-size='9.7' font-weight='bold' text-anchor='end'>Phage</text>
<text transform='translate(284.9 417.2) scale(1 1) rotate(-45)' font-size='9.7' font-weight='bold' text-anchor='end'>Ampicillin/sulbactam</text>
<text transform='translate(314.1 417.2) scale(1 1) rotate(-45)' font-size='9.7' font-weight='bold' text-anchor='end'>Phage + Antibiotic</text>
<path d='M372.5,400.6 L372.5,321.5 L539.5,321.5 L539.5,400.6 Z' fill='none' stroke='#444' stroke-width='1'/>
<line x1='372.5' y1='400.6' x2='374.1' y2='400.6' stroke='#444' stroke-width='0.8'/>
<text x='365.8' y='403.33' font-size='6.5' font-weight='bold' text-anchor='end' fill='#333' textLength='7.1' lengthAdjust='spacingAndGlyphs'>0.0</text>
<line x1='372.5' y1='374.23' x2='374.1' y2='374.23' stroke='#444' stroke-width='0.8'/>
<text x='365.8' y='376.96' font-size='6.5' font-weight='bold' text-anchor='end' fill='#333' textLength='7.1' lengthAdjust='spacingAndGlyphs'>0.5</text>
<line x1='372.5' y1='347.87' x2='374.1' y2='347.87' stroke='#444' stroke-width='0.8'/>
<text x='365.8' y='350.6' font-size='6.5' font-weight='bold' text-anchor='end' fill='#333' textLength='7.1' lengthAdjust='spacingAndGlyphs'>1.0</text>
<line x1='372.5' y1='321.5' x2='374.1' y2='321.5' stroke='#444' stroke-width='0.8'/>
<text x='365.8' y='324.23' font-size='6.5' font-weight='bold' text-anchor='end' fill='#333' textLength='7.1' lengthAdjust='spacingAndGlyphs'>1.5</text>
<line x1='372.5' y1='400.6' x2='372.5' y2='399.1' stroke='#444' stroke-width='0.8'/>
<text x='372.5' y='411.1' font-size='7.2' font-weight='bold' text-anchor='middle' fill='#222' textLength='2.85' lengthAdjust='spacingAndGlyphs'>0</text>
<line x1='414.25' y1='400.6' x2='414.25' y2='399.1' stroke='#444' stroke-width='0.8'/>
<text x='414.25' y='411.1' font-size='7.2' font-weight='bold' text-anchor='middle' fill='#222' textLength='2.85' lengthAdjust='spacingAndGlyphs'>6</text>
<line x1='456' y1='400.6' x2='456' y2='399.1' stroke='#444' stroke-width='0.8'/>
<text x='456' y='411.1' font-size='7.2' font-weight='bold' text-anchor='middle' fill='#222' textLength='5.7' lengthAdjust='spacingAndGlyphs'>12</text>
<line x1='497.75' y1='400.6' x2='497.75' y2='399.1' stroke='#444' stroke-width='0.8'/>
<text x='497.75' y='411.1' font-size='7.2' font-weight='bold' text-anchor='middle' fill='#222' textLength='5.7' lengthAdjust='spacingAndGlyphs'>18</text>
<line x1='539.5' y1='400.6' x2='539.5' y2='399.1' stroke='#444' stroke-width='0.8'/>
<text x='539.5' y='411.1' font-size='7.2' font-weight='bold' text-anchor='middle' fill='#222' textLength='5.7' lengthAdjust='spacingAndGlyphs'>24</text>
<polyline points='372.5,400.6 379.46,400.07 386.42,396.12 393.38,395.85 414.25,375.29 456,339.06 539.5,339.06' fill='none' stroke='#111111' stroke-width='0.95'/>
<circle cx='372.5' cy='400.6' r='2.3' fill='#111111'/>
<circle cx='379.46' cy='400.07' r='2.3' fill='#111111'/>
<circle cx='386.42' cy='396.12' r='2.3' fill='#111111'/>
<circle cx='393.38' cy='395.85' r='2.3' fill='#111111'/>
<circle cx='414.25' cy='375.29' r='2.3' fill='#111111'/>
<line x1='456' y1='333.79' x2='456' y2='344.33' stroke='#444' stroke-width='0.7'/>
<line x1='455' y1='333.79' x2='457' y2='333.79' stroke='#444' stroke-width='0.7'/>
<line x1='455' y1='344.33' x2='457' y2='344.33' stroke='#444' stroke-width='0.7'/>
<circle cx='456' cy='339.06' r='2.3' fill='#111111'/>
<circle cx='539.5' cy='339.06' r='2.3' fill='#111111'/>
<polyline points='372.5,400.6 379.46,400.6 386.42,400.6 393.38,400.6 414.25,382.14 456,349.98 539.5,347.87' fill='none' stroke='#f6893c' stroke-width='0.95'/>
<rect x='370.1' y='398.2' width='4.8' height='4.8' fill='#f6893c'/>
<rect x='377.06' y='398.2' width='4.8' height='4.8' fill='#f6893c'/>
<rect x='384.02' y='398.2' width='4.8' height='4.8' fill='#f6893c'/>
<rect x='390.98' y='398.2' width='4.8' height='4.8' fill='#f6893c'/>
<rect x='411.85' y='379.74' width='4.8' height='4.8' fill='#f6893c'/>
<line x1='456' y1='347.34' x2='456' y2='352.61' stroke='#444' stroke-width='0.7'/>
<line x1='455' y1='347.34' x2='457' y2='347.34' stroke='#444' stroke-width='0.7'/>
<line x1='455' y1='352.61' x2='457' y2='352.61' stroke='#444' stroke-width='0.7'/>
<rect x='453.6' y='347.58' width='4.8' height='4.8' fill='#f6893c'/>
<rect x='537.1' y='345.47' width='4.8' height='4.8' fill='#f6893c'/>
<polyline points='372.5,400.6 379.46,400.6 386.42,400.6 393.38,400.6 414.25,397.96 456,393.74 539.5,339.06' fill='none' stroke='#2383d6' stroke-width='0.95'/>
<polygon points='372.5,397.8 375.1,402.5 369.9,402.5' fill='#2383d6'/>
<polygon points='379.46,397.8 382.06,402.5 376.86,402.5' fill='#2383d6'/>
<polygon points='386.42,397.8 389.02,402.5 383.82,402.5' fill='#2383d6'/>
<polygon points='393.38,397.8 395.98,402.5 390.77,402.5' fill='#2383d6'/>
<polygon points='414.25,395.16 416.85,399.86 411.65,399.86' fill='#2383d6'/>
<polygon points='456,390.94 458.6,395.64 453.4,395.64' fill='#2383d6'/>
<polygon points='539.5,336.26 542.1,340.96 536.9,340.96' fill='#2383d6'/>
<polyline points='372.5,400.6 379.46,400.6 386.42,400.6 393.38,400.6 414.25,400.6 456,400.6 539.5,400.6' fill='none' stroke='#ec6a6a' stroke-width='1.6'/>
<polygon points='372.5,397.6 375.3,400.6 372.5,403.6 369.7,400.6' fill='#f51a1a'/>
<polygon points='379.46,397.6 382.26,400.6 379.46,403.6 376.66,400.6' fill='#f51a1a'/>
<polygon points='386.42,397.6 389.22,400.6 386.42,403.6 383.62,400.6' fill='#f51a1a'/>
<polygon points='393.38,397.6 396.18,400.6 393.38,403.6 390.57,400.6' fill='#f51a1a'/>
<polygon points='414.25,397.6 417.05,400.6 414.25,403.6 411.45,400.6' fill='#f51a1a'/>
<polygon points='456,397.6 458.8,400.6 456,403.6 453.2,400.6' fill='#f51a1a'/>
<polygon points='539.5,397.6 542.3,400.6 539.5,403.6 536.7,400.6' fill='#f51a1a'/>
<text x='456.3' y='423.2' font-size='9.6' font-weight='bold' text-anchor='middle' textLength='31.3' lengthAdjust='spacingAndGlyphs'>Times (h)</text>
<text transform='translate(353.8 364.5) rotate(-90) scale(1.1510 1)' font-size='7.7' font-weight='bold' text-anchor='middle'>Optical density at 600 nm</text>
<line x1='359' y1='300' x2='367' y2='300' stroke='#111111' stroke-width='1.1'/>
<circle cx='363' cy='300' r='2.3' fill='#111111'/>
<text x='367.6' y='302.1' font-size='7' font-weight='bold' textLength='34.4' lengthAdjust='spacingAndGlyphs'>No treatment</text>
<line x1='447' y1='300' x2='454' y2='300' stroke='#f6893c' stroke-width='1.1'/>
<rect x='448.1' y='297.6' width='4.8' height='4.8' fill='#f6893c'/>
<text x='455.6' y='302.1' font-size='7' font-weight='bold' textLength='15.4' lengthAdjust='spacingAndGlyphs'>Phage</text>
<line x1='358.5' y1='310.6' x2='366.9' y2='310.6' stroke='#2383d6' stroke-width='1.1'/>
<polygon points='362.7,307.8 365.3,312.5 360.1,312.5' fill='#2383d6'/>
<text x='368' y='312.7' font-size='7' font-weight='bold' textLength='54.6' lengthAdjust='spacingAndGlyphs'>Ampicillin/sulbactam</text>
<line x1='446' y1='310.6' x2='454' y2='310.6' stroke='#f51a1a' stroke-width='1.1'/>
<polygon points='450,307.6 452.8,310.6 450,313.6 447.2,310.6' fill='#f51a1a'/>
<text x='455.6' y='312.7' font-size='7' font-weight='bold' textLength='77.4' lengthAdjust='spacingAndGlyphs'>Phage + Ampicillin/sulbactam</text>
<text x='178.2' y='489.9' font-size='9.4' font-weight='bold' textLength='183' lengthAdjust='spacingAndGlyphs'><tspan font-style='italic'>A. baumannii</tspan> KBN10P04948 (ST191)</text>
<rect x='42.8' y='514.77' width='10.89' height='8.77' fill='#f2fbf8'/>
<rect x='53.09' y='514.77' width='10.89' height='8.77' fill='#f2fbf8'/>
<rect x='63.38' y='514.77' width='10.89' height='8.77' fill='#f2fbf8'/>
<rect x='73.66' y='514.77' width='10.89' height='8.77' fill='#f2fbf8'/>
<rect x='83.95' y='514.77' width='10.89' height='8.77' fill='#f2fbf8'/>
<rect x='42.8' y='522.93' width='10.89' height='8.77' fill='#36d8ae'/>
<rect x='53.09' y='522.93' width='10.89' height='8.77' fill='#6ee0c0'/>
<rect x='63.38' y='522.93' width='10.89' height='8.77' fill='#6ee0c0'/>
<rect x='73.66' y='522.93' width='10.89' height='8.77' fill='#8ae6cc'/>
<rect x='83.95' y='522.93' width='10.89' height='8.77' fill='#8ae6cc'/>
<rect x='94.24' y='522.93' width='10.89' height='8.77' fill='#60dcbc'/>
<rect x='104.52' y='522.93' width='10.89' height='8.77' fill='#74e0c4'/>
<rect x='42.8' y='531.1' width='10.89' height='8.77' fill='#16cc98'/>
<rect x='53.09' y='531.1' width='10.89' height='8.77' fill='#16cc98'/>
<rect x='63.38' y='531.1' width='10.89' height='8.77' fill='#16cc98'/>
<rect x='73.66' y='531.1' width='10.89' height='8.77' fill='#16cc98'/>
<rect x='83.95' y='531.1' width='10.89' height='8.77' fill='#16cc98'/>
<rect x='94.24' y='531.1' width='10.89' height='8.77' fill='#16cc98'/>
<rect x='104.52' y='531.1' width='10.89' height='8.77' fill='#16cc98'/>
<rect x='114.81' y='531.1' width='10.29' height='8.77' fill='#5cdab8'/>
<rect x='42.8' y='539.27' width='10.89' height='8.77' fill='#15ca96'/>
<rect x='53.09' y='539.27' width='10.89' height='8.77' fill='#15ca96'/>
<rect x='63.38' y='539.27' width='10.89' height='8.77' fill='#15ca96'/>
<rect x='73.66' y='539.27' width='10.89' height='8.77' fill='#15ca96'/>
<rect x='83.95' y='539.27' width='10.89' height='8.77' fill='#15ca96'/>
<rect x='94.24' y='539.27' width='10.89' height='8.77' fill='#15ca96'/>
<rect x='104.52' y='539.27' width='10.89' height='8.77' fill='#15ca96'/>
<rect x='114.81' y='539.27' width='10.29' height='8.77' fill='#22d0a4'/>
<rect x='42.8' y='547.43' width='10.89' height='8.77' fill='#15ca96'/>
<rect x='53.09' y='547.43' width='10.89' height='8.77' fill='#15ca96'/>
<rect x='63.38' y='547.43' width='10.89' height='8.77' fill='#15ca96'/>
<rect x='73.66' y='547.43' width='10.89' height='8.77' fill='#15ca96'/>
<rect x='83.95' y='547.43' width='10.89' height='8.77' fill='#15ca96'/>
<rect x='94.24' y='547.43' width='10.89' height='8.77' fill='#15ca96'/>
<rect x='104.52' y='547.43' width='10.89' height='8.77' fill='#15ca96'/>
<rect x='114.81' y='547.43' width='10.29' height='8.77' fill='#22d0a4'/>
<rect x='42.8' y='555.6' width='10.89' height='8.77' fill='#15ca96'/>
<rect x='53.09' y='555.6' width='10.89' height='8.77' fill='#15ca96'/>
<rect x='63.38' y='555.6' width='10.89' height='8.77' fill='#15ca96'/>
<rect x='73.66' y='555.6' width='10.89' height='8.77' fill='#15ca96'/>
<rect x='83.95' y='555.6' width='10.89' height='8.77' fill='#15ca96'/>
<rect x='94.24' y='555.6' width='10.89' height='8.77' fill='#15ca96'/>
<rect x='104.52' y='555.6' width='10.89' height='8.77' fill='#15ca96'/>
<rect x='114.81' y='555.6' width='10.29' height='8.77' fill='#22d0a4'/>
<rect x='42.8' y='563.77' width='10.89' height='8.77' fill='#15ca96'/>
<rect x='53.09' y='563.77' width='10.89' height='8.77' fill='#15ca96'/>
<rect x='63.38' y='563.77' width='10.89' height='8.77' fill='#15ca96'/>
<rect x='73.66' y='563.77' width='10.89' height='8.77' fill='#15ca96'/>
<rect x='83.95' y='563.77' width='10.89' height='8.77' fill='#15ca96'/>
<rect x='94.24' y='563.77' width='10.89' height='8.77' fill='#15ca96'/>
<rect x='104.52' y='563.77' width='10.89' height='8.77' fill='#15ca96'/>
<rect x='114.81' y='563.77' width='10.29' height='8.77' fill='#22d0a4'/>
<rect x='42.8' y='571.93' width='10.89' height='8.77' fill='#15ca96'/>
<rect x='53.09' y='571.93' width='10.89' height='8.77' fill='#15ca96'/>
<rect x='63.38' y='571.93' width='10.89' height='8.77' fill='#15ca96'/>
<rect x='73.66' y='571.93' width='10.89' height='8.77' fill='#15ca96'/>
<rect x='83.95' y='571.93' width='10.89' height='8.77' fill='#15ca96'/>
<rect x='94.24' y='571.93' width='10.89' height='8.77' fill='#15ca96'/>
<rect x='104.52' y='571.93' width='10.89' height='8.77' fill='#15ca96'/>
<rect x='114.81' y='571.93' width='10.29' height='8.77' fill='#22d0a4'/>
<rect x='42.8' y='580.1' width='10.89' height='8.77' fill='#15ca96'/>
<rect x='53.09' y='580.1' width='10.89' height='8.77' fill='#15ca96'/>
<rect x='63.38' y='580.1' width='10.89' height='8.77' fill='#15ca96'/>
<rect x='73.66' y='580.1' width='10.89' height='8.77' fill='#15ca96'/>
<rect x='83.95' y='580.1' width='10.89' height='8.77' fill='#15ca96'/>
<rect x='94.24' y='580.1' width='10.89' height='8.77' fill='#15ca96'/>
<rect x='104.52' y='580.1' width='10.89' height='8.77' fill='#15ca96'/>
<rect x='114.81' y='580.1' width='10.29' height='8.77' fill='#22d0a4'/>
<rect x='42.8' y='588.27' width='10.89' height='8.77' fill='#15ca96'/>
<rect x='53.09' y='588.27' width='10.89' height='8.77' fill='#15ca96'/>
<rect x='63.38' y='588.27' width='10.89' height='8.77' fill='#15ca96'/>
<rect x='73.66' y='588.27' width='10.89' height='8.77' fill='#15ca96'/>
<rect x='83.95' y='588.27' width='10.89' height='8.77' fill='#15ca96'/>
<rect x='94.24' y='588.27' width='10.89' height='8.77' fill='#15ca96'/>
<rect x='104.52' y='588.27' width='10.89' height='8.77' fill='#15ca96'/>
<rect x='114.81' y='588.27' width='10.29' height='8.77' fill='#22d0a4'/>
<rect x='42.8' y='596.43' width='10.89' height='8.17' fill='#18c488'/>
<rect x='53.09' y='596.43' width='10.89' height='8.17' fill='#18c488'/>
<rect x='63.38' y='596.43' width='10.89' height='8.17' fill='#18c488'/>
<rect x='73.66' y='596.43' width='10.89' height='8.17' fill='#18c488'/>
<rect x='83.95' y='596.43' width='10.89' height='8.17' fill='#15ca96'/>
<rect x='94.24' y='596.43' width='10.89' height='8.17' fill='#15ca96'/>
<rect x='104.52' y='596.43' width='10.89' height='8.17' fill='#15ca96'/>
<rect x='114.81' y='596.43' width='10.29' height='8.17' fill='#15ca96'/>
<line x1='42.8' y1='523.33' x2='125.1' y2='523.33' stroke='#222' stroke-width='1.35' stroke-dasharray='1.7 1.1'/>
<line x1='42.8' y1='597.23' x2='125.1' y2='597.23' stroke='#222' stroke-width='1.1'/>
<polygon points='115,524.2 124.6,524.2 124.6,532 115,532' fill='none' stroke='#f03232' stroke-width='1.5'/>
<rect x='42.8' y='506.6' width='82.3' height='98' fill='none' stroke='#1a1a1a' stroke-width='1.1'/>
<line x1='39.6' y1='510.68' x2='42.8' y2='510.68' stroke='#222' stroke-width='0.9'/>
<text x='38.4' y='512.72' font-size='6' font-weight='bold' text-anchor='end' textLength='20.85' lengthAdjust='spacingAndGlyphs'>512/256</text>
<line x1='39.6' y1='518.85' x2='42.8' y2='518.85' stroke='#222' stroke-width='0.9'/>
<text x='38.4' y='520.89' font-size='6' font-weight='bold' text-anchor='end' textLength='20.85' lengthAdjust='spacingAndGlyphs'>256/128</text>
<line x1='39.6' y1='527.02' x2='42.8' y2='527.02' stroke='#222' stroke-width='0.9'/>
<text x='38.4' y='529.06' font-size='6' font-weight='bold' text-anchor='end' textLength='17.67' lengthAdjust='spacingAndGlyphs'>128/64</text>
<line x1='39.6' y1='535.18' x2='42.8' y2='535.18' stroke='#222' stroke-width='0.9'/>
<text x='38.4' y='537.22' font-size='6' font-weight='bold' text-anchor='end' textLength='14.49' lengthAdjust='spacingAndGlyphs'>64/32</text>
<line x1='39.6' y1='543.35' x2='42.8' y2='543.35' stroke='#222' stroke-width='0.9'/>
<text x='38.4' y='545.39' font-size='6' font-weight='bold' text-anchor='end' textLength='14.49' lengthAdjust='spacingAndGlyphs'>32/16</text>
<line x1='39.6' y1='551.52' x2='42.8' y2='551.52' stroke='#222' stroke-width='0.9'/>
<text x='38.4' y='553.56' font-size='6' font-weight='bold' text-anchor='end' textLength='11.31' lengthAdjust='spacingAndGlyphs'>16/8</text>
<line x1='39.6' y1='559.68' x2='42.8' y2='559.68' stroke='#222' stroke-width='0.9'/>
<text x='38.4' y='561.72' font-size='6' font-weight='bold' text-anchor='end' textLength='8.13' lengthAdjust='spacingAndGlyphs'>8/4</text>
<line x1='39.6' y1='567.85' x2='42.8' y2='567.85' stroke='#222' stroke-width='0.9'/>
<text x='38.4' y='569.89' font-size='6' font-weight='bold' text-anchor='end' textLength='8.13' lengthAdjust='spacingAndGlyphs'>4/2</text>
<line x1='39.6' y1='576.02' x2='42.8' y2='576.02' stroke='#222' stroke-width='0.9'/>
<text x='38.4' y='578.06' font-size='6' font-weight='bold' text-anchor='end' textLength='8.13' lengthAdjust='spacingAndGlyphs'>2/1</text>
<line x1='39.6' y1='584.18' x2='42.8' y2='584.18' stroke='#222' stroke-width='0.9'/>
<text x='38.4' y='586.22' font-size='6' font-weight='bold' text-anchor='end' textLength='12.9' lengthAdjust='spacingAndGlyphs'>1/0.5</text>
<line x1='39.6' y1='592.35' x2='42.8' y2='592.35' stroke='#222' stroke-width='0.9'/>
<text x='38.4' y='594.39' font-size='6' font-weight='bold' text-anchor='end' textLength='20.85' lengthAdjust='spacingAndGlyphs'>0.5/0.25</text>
<line x1='39.6' y1='600.52' x2='42.8' y2='600.52' stroke='#222' stroke-width='0.9'/>
<text x='38.4' y='602.56' font-size='6' font-weight='bold' text-anchor='end' textLength='3.18' lengthAdjust='spacingAndGlyphs'>0</text>
<line x1='47.94' y1='604.6' x2='47.94' y2='607.8' stroke='#222' stroke-width='0.9'/>
<text x='47.94' y='613' font-size='6.2' font-weight='bold' text-anchor='middle'>0</text>
<line x1='58.23' y1='604.6' x2='58.23' y2='607.8' stroke='#222' stroke-width='0.9'/>
<text x='58.53' y='613' font-size='6.2' font-weight='bold' text-anchor='middle'>10<tspan dy='-2.36' font-size='3.72'>3</tspan></text>
<line x1='68.52' y1='604.6' x2='68.52' y2='607.8' stroke='#222' stroke-width='0.9'/>
<text x='68.82' y='613' font-size='6.2' font-weight='bold' text-anchor='middle'>10<tspan dy='-2.36' font-size='3.72'>4</tspan></text>
<line x1='78.81' y1='604.6' x2='78.81' y2='607.8' stroke='#222' stroke-width='0.9'/>
<text x='79.11' y='613' font-size='6.2' font-weight='bold' text-anchor='middle'>10<tspan dy='-2.36' font-size='3.72'>5</tspan></text>
<line x1='89.09' y1='604.6' x2='89.09' y2='607.8' stroke='#222' stroke-width='0.9'/>
<text x='89.39' y='613' font-size='6.2' font-weight='bold' text-anchor='middle'>10<tspan dy='-2.36' font-size='3.72'>6</tspan></text>
<line x1='99.38' y1='604.6' x2='99.38' y2='607.8' stroke='#222' stroke-width='0.9'/>
<text x='99.68' y='613' font-size='6.2' font-weight='bold' text-anchor='middle'>10<tspan dy='-2.36' font-size='3.72'>7</tspan></text>
<line x1='109.67' y1='604.6' x2='109.67' y2='607.8' stroke='#222' stroke-width='0.9'/>
<text x='109.97' y='613' font-size='6.2' font-weight='bold' text-anchor='middle'>10<tspan dy='-2.36' font-size='3.72'>8</tspan></text>
<line x1='119.96' y1='604.6' x2='119.96' y2='607.8' stroke='#222' stroke-width='0.9'/>
<text x='120.26' y='613' font-size='6.2' font-weight='bold' text-anchor='middle'>10<tspan dy='-2.36' font-size='3.72'>9</tspan></text>
<polygon points='119.9,525.1 120.63,526.99 122.66,527.1 121.09,528.39 121.6,530.35 119.9,529.25 118.2,530.35 118.71,528.39 117.14,527.1 119.17,526.99' fill='#111'/>
<text transform='translate(10.7 554.8) rotate(-90) scale(0.8686 1)' font-size='8.3' font-weight='bold' text-anchor='middle'>Ampicillin/sulbactam (μg/mL)</text>
<text x='84.2' y='624.7' font-size='9.6' font-weight='bold' text-anchor='middle' textLength='140.5' lengthAdjust='spacingAndGlyphs'>vB_AbaSi_W9 Phage (PFU/mL)</text>
<defs><linearGradient id='g3' x1='0' y1='0' x2='0' y2='1'><stop offset='0' stop-color='#ffffff'/><stop offset='0.2' stop-color='#b8eede'/><stop offset='0.4' stop-color='#6ce0c2'/><stop offset='0.5' stop-color='#38d6ac'/><stop offset='0.6' stop-color='#1ed0a2'/><stop offset='0.8' stop-color='#16c894'/><stop offset='1' stop-color='#12c086'/></linearGradient></defs>
<rect x='134.9' y='506.5' width='11.1' height='98' fill='url(#g3)' stroke='#222' stroke-width='1.1'/>
<text x='149.8' y='508.43' font-size='5.5' font-weight='bold' textLength='9.9' lengthAdjust='spacingAndGlyphs'>100</text>
<line x1='134.9' y1='526.1' x2='136.7' y2='526.1' stroke='#222' stroke-width='0.9'/>
<line x1='144.2' y1='526.1' x2='146' y2='526.1' stroke='#222' stroke-width='0.9'/>
<text x='149.8' y='528.02' font-size='5.5' font-weight='bold' textLength='6.6' lengthAdjust='spacingAndGlyphs'>80</text>
<line x1='134.9' y1='545.7' x2='136.7' y2='545.7' stroke='#222' stroke-width='0.9'/>
<line x1='144.2' y1='545.7' x2='146' y2='545.7' stroke='#222' stroke-width='0.9'/>
<text x='149.8' y='547.62' font-size='5.5' font-weight='bold' textLength='6.6' lengthAdjust='spacingAndGlyphs'>60</text>
<line x1='134.9' y1='565.3' x2='136.7' y2='565.3' stroke='#222' stroke-width='0.9'/>
<line x1='144.2' y1='565.3' x2='146' y2='565.3' stroke='#222' stroke-width='0.9'/>
<text x='149.8' y='567.22' font-size='5.5' font-weight='bold' textLength='6.6' lengthAdjust='spacingAndGlyphs'>40</text>
<line x1='134.9' y1='584.9' x2='136.7' y2='584.9' stroke='#222' stroke-width='0.9'/>
<line x1='144.2' y1='584.9' x2='146' y2='584.9' stroke='#222' stroke-width='0.9'/>
<text x='149.8' y='586.82' font-size='5.5' font-weight='bold' textLength='6.6' lengthAdjust='spacingAndGlyphs'>20</text>
<text x='149.8' y='606.42' font-size='5.5' font-weight='bold' textLength='3.3' lengthAdjust='spacingAndGlyphs'>0</text>
<text x='149' y='613' font-size='4.9' font-weight='bold' text-anchor='middle' textLength='35.5' lengthAdjust='spacingAndGlyphs'>Reduction (%)</text>
<rect x='216.75' y='536.97' width='18.5' height='68.43' fill='#005b0e' stroke='#111' stroke-width='1.3'/>
<line x1='226' y1='536.97' x2='226' y2='536.5' stroke='#111' stroke-width='1'/>
<line x1='221.3' y1='536.5' x2='230.7' y2='536.5' stroke='#111' stroke-width='1'/>
<rect x='245.85' y='544.6' width='18.5' height='60.8' fill='#0a9a5c' stroke='#111' stroke-width='1.3'/>
<line x1='255.1' y1='544.6' x2='255.1' y2='543.5' stroke='#111' stroke-width='1'/>
<line x1='250.4' y1='543.5' x2='259.8' y2='543.5' stroke='#111' stroke-width='1'/>
<rect x='275.25' y='558.68' width='18.5' height='46.72' fill='#10c47c' stroke='#111' stroke-width='1.3'/>
<line x1='284.5' y1='558.68' x2='284.5' y2='556.5' stroke='#111' stroke-width='1'/>
<line x1='279.8' y1='556.5' x2='289.2' y2='556.5' stroke='#111' stroke-width='1'/>
<text x='284.5' y='557.4' font-size='7.6' font-weight='bold' text-anchor='middle' fill='#333' textLength='7.8' lengthAdjust='spacingAndGlyphs'>**</text>
<rect x='304.65' y='604.37' width='18.5' height='1.03' fill='#10c47c' stroke='#111' stroke-width='1.3'/>
<line x1='313.9' y1='604.37' x2='313.9' y2='602.5' stroke='#111' stroke-width='1'/>
<line x1='309.2' y1='602.5' x2='318.6' y2='602.5' stroke='#111' stroke-width='1'/>
<text x='313.9' y='601.9' font-size='7.6' font-weight='bold' text-anchor='middle' fill='#333' textLength='11.7' lengthAdjust='spacingAndGlyphs'>***</text>
<line x1='206.6' y1='516' x2='206.6' y2='606' stroke='#111' stroke-width='1.3'/>
<line x1='202.6' y1='605.4' x2='333.5' y2='605.4' stroke='#111' stroke-width='1.3'/>
<line x1='202.6' y1='584.79' x2='206.6' y2='584.79' stroke='#111' stroke-width='1.2'/>
<line x1='202.6' y1='564.18' x2='206.6' y2='564.18' stroke='#111' stroke-width='1.2'/>
<line x1='202.6' y1='543.57' x2='206.6' y2='543.57' stroke='#111' stroke-width='1.2'/>
<line x1='202.6' y1='522.96' x2='206.6' y2='522.96' stroke='#111' stroke-width='1.2'/>
<text x='201.2' y='608.21' font-size='7.8' font-weight='bold' font-family='Liberation Sans' text-anchor='end' fill='#222'>0</text>
<text x='201.2' y='587.6' font-size='7.8' font-weight='bold' font-family='Liberation Sans' text-anchor='end' fill='#222'>3</text>
<text x='201.2' y='566.99' font-size='7.8' font-weight='bold' font-family='Liberation Sans' text-anchor='end' fill='#222'>6</text>
<text x='201.2' y='546.38' font-size='7.8' font-weight='bold' font-family='Liberation Sans' text-anchor='end' fill='#222'>9</text>
<text x='201.2' y='525.77' font-size='7.8' font-weight='bold' font-family='Liberation Sans' text-anchor='end' fill='#222'>12</text>
<line x1='226' y1='605.4' x2='226' y2='609.6' stroke='#111' stroke-width='1.2'/>
<line x1='255.1' y1='605.4' x2='255.1' y2='609.6' stroke='#111' stroke-width='1.2'/>
<line x1='284.5' y1='605.4' x2='284.5' y2='609.6' stroke='#111' stroke-width='1.2'/>
<line x1='313.9' y1='605.4' x2='313.9' y2='609.6' stroke='#111' stroke-width='1.2'/>
<text transform='translate(187 560) rotate(-90) scale(0.9815 1)' font-size='10.1' font-weight='bold' text-anchor='middle'>Log CFU/mL</text>
<text transform='translate(228.6 617.4) scale(1 0.9) rotate(-45)' font-size='9.6' font-weight='bold' text-anchor='end'>No treatment</text>
<text transform='translate(257.7 617.4) scale(1 0.9) rotate(-45)' font-size='9.6' font-weight='bold' text-anchor='end'>Phage</text>
<text transform='translate(287.1 617.4) scale(1 0.9) rotate(-45)' font-size='9.6' font-weight='bold' text-anchor='end'>Ampicillin/sulbactam</text>
<text transform='translate(316.5 617.4) scale(1 0.9) rotate(-45)' font-size='9.6' font-weight='bold' text-anchor='end'>Phage + Ampicillin/sulbactam</text>
<path d='M371.1,607 L371.1,529.7 L540,529.7 L540,607 Z' fill='none' stroke='#888' stroke-width='1.2'/>
<line x1='371.1' y1='607' x2='372.7' y2='607' stroke='#888' stroke-width='0.8'/>
<text x='365.1' y='609.52' font-size='6' font-weight='bold' text-anchor='end' fill='#333' textLength='7.2' lengthAdjust='spacingAndGlyphs'>0.0</text>
<line x1='371.1' y1='581.23' x2='372.7' y2='581.23' stroke='#888' stroke-width='0.8'/>
<text x='365.1' y='583.75' font-size='6' font-weight='bold' text-anchor='end' fill='#333' textLength='7.2' lengthAdjust='spacingAndGlyphs'>0.5</text>
<line x1='371.1' y1='555.47' x2='372.7' y2='555.47' stroke='#888' stroke-width='0.8'/>
<text x='365.1' y='557.99' font-size='6' font-weight='bold' text-anchor='end' fill='#333' textLength='7.2' lengthAdjust='spacingAndGlyphs'>1.0</text>
<line x1='371.1' y1='529.7' x2='372.7' y2='529.7' stroke='#888' stroke-width='0.8'/>
<text x='365.1' y='532.22' font-size='6' font-weight='bold' text-anchor='end' fill='#333' textLength='7.2' lengthAdjust='spacingAndGlyphs'>1.5</text>
<line x1='371.1' y1='607' x2='371.1' y2='605.5' stroke='#888' stroke-width='0.8'/>
<text x='371.1' y='615.8' font-size='6' font-weight='bold' text-anchor='middle' fill='#222' textLength='2.8' lengthAdjust='spacingAndGlyphs'>0</text>
<line x1='413.33' y1='607' x2='413.33' y2='605.5' stroke='#888' stroke-width='0.8'/>
<text x='413.33' y='615.8' font-size='6' font-weight='bold' text-anchor='middle' fill='#222' textLength='2.8' lengthAdjust='spacingAndGlyphs'>6</text>
<line x1='455.55' y1='607' x2='455.55' y2='605.5' stroke='#888' stroke-width='0.8'/>
<text x='455.55' y='615.8' font-size='6' font-weight='bold' text-anchor='middle' fill='#222' textLength='5.6' lengthAdjust='spacingAndGlyphs'>12</text>
<line x1='497.78' y1='607' x2='497.78' y2='605.5' stroke='#888' stroke-width='0.8'/>
<text x='497.78' y='615.8' font-size='6' font-weight='bold' text-anchor='middle' fill='#222' textLength='5.6' lengthAdjust='spacingAndGlyphs'>18</text>
<line x1='540' y1='607' x2='540' y2='605.5' stroke='#888' stroke-width='0.8'/>
<text x='540' y='615.8' font-size='6' font-weight='bold' text-anchor='middle' fill='#222' textLength='5.6' lengthAdjust='spacingAndGlyphs'>24</text>
<polyline points='371.1,607 378.14,602.36 385.18,602.36 392.21,602.36 413.33,580.2 455.55,552.37 540,543.1' fill='none' stroke='#111111' stroke-width='0.9'/>
<circle cx='371.1' cy='607' r='1.79' fill='#111111'/>
<circle cx='378.14' cy='602.36' r='1.79' fill='#111111'/>
<circle cx='385.18' cy='602.36' r='1.79' fill='#111111'/>
<circle cx='392.21' cy='602.36' r='1.79' fill='#111111'/>
<circle cx='413.33' cy='580.2' r='1.79' fill='#111111'/>
<circle cx='455.55' cy='552.37' r='1.79' fill='#111111'/>
<circle cx='540' cy='543.1' r='1.79' fill='#111111'/>
<polyline points='371.1,607 378.14,607 385.18,607 392.21,607 413.33,582.78 455.55,559.07 540,563.2' fill='none' stroke='#f6893c' stroke-width='0.9'/>
<rect x='369.23' y='605.13' width='3.74' height='3.74' fill='#f6893c'/>
<rect x='376.27' y='605.13' width='3.74' height='3.74' fill='#f6893c'/>
<rect x='383.3' y='605.13' width='3.74' height='3.74' fill='#f6893c'/>
<rect x='390.34' y='605.13' width='3.74' height='3.74' fill='#f6893c'/>
<rect x='411.45' y='580.91' width='3.74' height='3.74' fill='#f6893c'/>
<rect x='453.68' y='557.2' width='3.74' height='3.74' fill='#f6893c'/>
<rect x='538.13' y='561.32' width='3.74' height='3.74' fill='#f6893c'/>
<polyline points='371.1,607 378.14,607 385.18,607 392.21,607 413.33,607 455.55,603.65 540,575.05' fill='none' stroke='#2383d6' stroke-width='0.9'/>
<polygon points='371.1,604.82 373.13,608.48 369.07,608.48' fill='#2383d6'/>
<polygon points='378.14,604.82 380.17,608.48 376.11,608.48' fill='#2383d6'/>
<polygon points='385.18,604.82 387.2,608.48 383.15,608.48' fill='#2383d6'/>
<polygon points='392.21,604.82 394.24,608.48 390.18,608.48' fill='#2383d6'/>
<polygon points='413.33,604.82 415.35,608.48 411.3,608.48' fill='#2383d6'/>
<polygon points='455.55,601.47 457.58,605.13 453.52,605.13' fill='#2383d6'/>
<polygon points='540,572.87 542.03,576.53 537.97,576.53' fill='#2383d6'/>
<polyline points='371.1,607 378.14,607 385.18,607 392.21,607 413.33,607 455.55,607 540,605.45' fill='none' stroke='#f51a1a' stroke-width='0.9'/>
<polygon points='371.1,604.66 373.28,607 371.1,609.34 368.92,607' fill='#f51a1a'/>
<polygon points='378.14,604.66 380.32,607 378.14,609.34 375.95,607' fill='#f51a1a'/>
<polygon points='385.18,604.66 387.36,607 385.18,609.34 382.99,607' fill='#f51a1a'/>
<polygon points='392.21,604.66 394.4,607 392.21,609.34 390.03,607' fill='#f51a1a'/>
<polygon points='413.33,604.66 415.51,607 413.33,609.34 411.14,607' fill='#f51a1a'/>
<polygon points='455.55,604.66 457.73,607 455.55,609.34 453.37,607' fill='#f51a1a'/>
<polygon points='540,603.11 542.18,605.45 540,607.79 537.82,605.45' fill='#f51a1a'/>
<text x='456.1' y='624.3' font-size='7' font-weight='bold' text-anchor='middle' textLength='25.8' lengthAdjust='spacingAndGlyphs'>Times (h)</text>
<text transform='translate(352 566) rotate(-90) scale(1.1186 1)' font-size='7' font-weight='bold' text-anchor='middle'>Optical density at 600 nm</text>
<line x1='367' y1='512.3' x2='374.5' y2='512.3' stroke='#111111' stroke-width='1.1'/>
<circle cx='370.75' cy='512.3' r='1.61' fill='#111111'/>
<text x='375.6' y='514.22' font-size='6.4' font-weight='bold' textLength='31.4' lengthAdjust='spacingAndGlyphs'>No treatment</text>
<line x1='461' y1='512.3' x2='467' y2='512.3' stroke='#f6893c' stroke-width='1.1'/>
<rect x='462.32' y='510.62' width='3.36' height='3.36' fill='#f6893c'/>
<text x='469' y='514.22' font-size='6.4' font-weight='bold' textLength='14' lengthAdjust='spacingAndGlyphs'>Phage</text>
<line x1='367' y1='522.1' x2='374.5' y2='522.1' stroke='#2383d6' stroke-width='1.1'/>
<polygon points='370.75,520.14 372.57,523.43 368.93,523.43' fill='#2383d6'/>
<text x='375.6' y='524.02' font-size='6.4' font-weight='bold' textLength='51.4' lengthAdjust='spacingAndGlyphs'>Ampicillin/sulbactam</text>
<line x1='461' y1='522.1' x2='467' y2='522.1' stroke='#f51a1a' stroke-width='1.1'/>
<polygon points='464,520 465.96,522.1 464,524.2 462.04,522.1' fill='#f51a1a'/>
<text x='469' y='524.02' font-size='6.4' font-weight='bold' textLength='71' lengthAdjust='spacingAndGlyphs'>Phage + Ampicillin/sulbactam</text>
</svg>
</body></html>
